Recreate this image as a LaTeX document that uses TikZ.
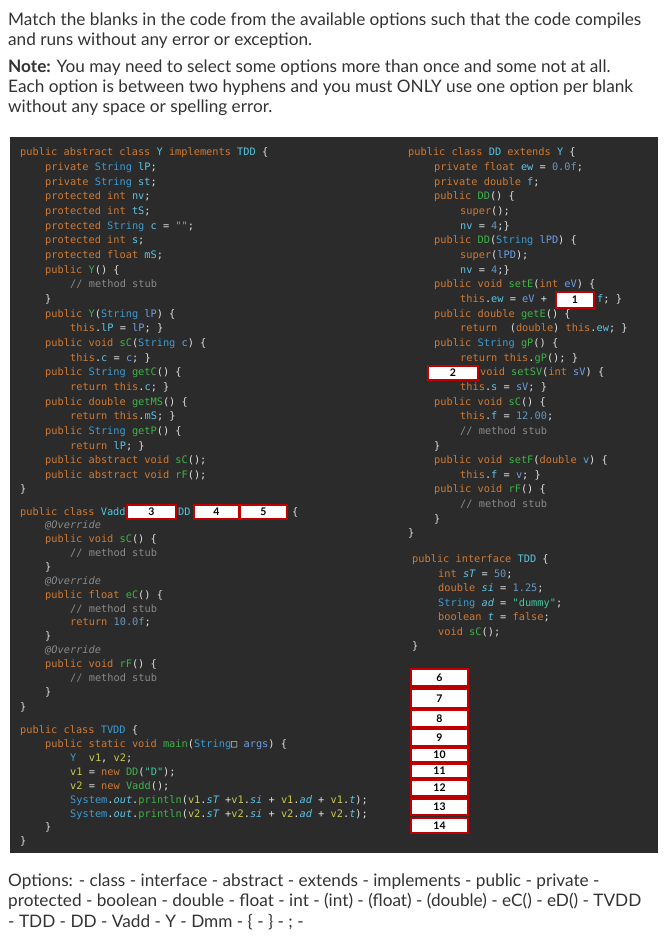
\documentclass[tikz,border=0pt]{standalone}
\usepackage{fontspec}
\setmainfont{Lato}
\setmonofont{DejaVu Sans Mono}
\definecolor{bgc}{HTML}{2B2B2B}
\definecolor{kwc}{HTML}{D07A34}
\definecolor{tyc}{HTML}{3D9BD0}
\definecolor{cnc}{HTML}{55C6DE}
\definecolor{fdc}{HTML}{5EC4E4}
\definecolor{mtc}{HTML}{3FB34A}
\definecolor{pac}{HTML}{6E9EE6}
\definecolor{nuc}{HTML}{6897BB}
\definecolor{src}{HTML}{3FC9A0}
\definecolor{cmc}{HTML}{8A8A8A}
\definecolor{plc}{HTML}{E0E0E0}
\definecolor{vrc}{HTML}{C9C94E}
\definecolor{boxred}{HTML}{C00000}
\definecolor{txc}{HTML}{333333}
\newcommand\cKW[1]{\textcolor{kwc}{#1}}
\newcommand\cTY[1]{\textcolor{tyc}{#1}}
\newcommand\cCN[1]{\textcolor{cnc}{#1}}
\newcommand\cFD[1]{\textcolor{fdc}{#1}}
\newcommand\cMT[1]{\textcolor{mtc}{#1}}
\newcommand\cPA[1]{\textcolor{pac}{#1}}
\newcommand\cNU[1]{\textcolor{nuc}{#1}}
\newcommand\cSR[1]{\textcolor{src}{#1}}
\newcommand\cCM[1]{\textcolor{cmc}{#1}}
\newcommand\cVR[1]{\textcolor{vrc}{#1}}
\newcount\lncount
\newcommand\cl[3]{\global\advance\lncount by 1\relax
  \node[code] (ln\the\lncount) at (#1,{-(#2)-4}) {#3};}
\newcommand\bx[5]{\node[gapbox,minimum width={(#3-#1)*1pt},minimum height={(#4-#2)*1pt}] (box#5) at ({(#1+#3)/2},{-(#2+#4)/2}) {#5};}
\tikzset{
  code/.style={anchor=base west,inner sep=0pt,text=plc,font=\ttfamily\fontsize{10.3}{12}\selectfont},
  gapbox/.style={draw=boxred,line width=1.6pt,fill=white,inner sep=0pt,font=\bfseries\fontsize{10.5}{11}\selectfont,text=black},
  prose/.style={anchor=base west,inner sep=0pt,text=txc,font=\fontsize{17.2}{20}\selectfont}
}
\begin{document}
\begin{tikzpicture}[x=1pt,y=1pt]
\useasboundingbox (0,0) rectangle (671,-941);
\fill[white] (0,0) rectangle (671,-941);
% prose
\node[prose] (p1) at (8,-26) {Match the blanks in the code from the available options such that the code compiles};
\node[prose] (p2) at (8,-46) {and runs without any error or exception.};
\node[prose] (p3) at (8,-73) {\textbf{Note:} You may need to select some options more than once and some not at all.};
\node[prose] (p4) at (8,-93) {Each option is between two hyphens and you must ONLY use one option per blank};
\node[prose] (p5) at (8,-113) {without any space or spelling error.};
\node[prose] (p6) at (8,-886) {Options: - class - interface - abstract - extends - implements - public - private -};
\node[prose] (p7) at (8,-906) {protected - boolean - double - float - int - (int) - (float) - (double) - eC() - eD() - TVDD};
\node[prose] (p8) at (8,-927) {- TDD - DD - Vadd - Y - Dmm - \{ - \} - ; -};
% panel
\fill[bgc] (10,-137) rectangle (658,-853);
% left column: class Y
\cl{20}{152}{\cKW{public abstract class} \cCN{Y} \cKW{implements} \cCN{TDD} \{}
\cl{45}{166.6}{\cKW{private} \cTY{String} \cFD{lP};}
\cl{45}{181.3}{\cKW{private} \cTY{String} \cFD{st};}
\cl{45}{195.9}{\cKW{protected int} \cFD{nv};}
\cl{45}{210.6}{\cKW{protected int} \cFD{tS};}
\cl{45}{225.2}{\cKW{protected} \cTY{String} \cFD{c} = \cSR{""};}
\cl{45}{239.9}{\cKW{protected int} \cFD{s};}
\cl{45}{254.5}{\cKW{protected float} \cFD{mS};}
\cl{45}{269.2}{\cKW{public} \cMT{Y}() \{}
\cl{70}{283.8}{\cCM{// method stub}}
\cl{45}{298.5}{\}}
\cl{45}{313.1}{\cKW{public} \cMT{Y}(\cTY{String} \cPA{lP}) \{}
\cl{70}{327.8}{\cKW{this}.\cFD{lP} = \cPA{lP}; \}}
\cl{45}{342.4}{\cKW{public void} \cMT{sC}(\cTY{String} \cPA{c}) \{}
\cl{70}{357.1}{\cKW{this}.\cFD{c} = \cPA{c}; \}}
\cl{45}{371.7}{\cKW{public} \cTY{String} \cMT{getC}() \{}
\cl{70}{386.4}{\cKW{return this}.\cFD{c}; \}}
\cl{45}{401.0}{\cKW{public double} \cMT{getMS}() \{}
\cl{70}{415.7}{\cKW{return this}.\cFD{mS}; \}}
\cl{45}{430.3}{\cKW{public} \cTY{String} \cMT{getP}() \{}
\cl{70}{445.0}{\cKW{return} \cFD{lP}; \}}
\cl{45}{459.6}{\cKW{public abstract void} \cMT{sC}();}
\cl{45}{474.3}{\cKW{public abstract void} \cMT{rF}();}
\cl{20}{488.9}{\}}
% class Vadd
\cl{20}{511}{\cKW{public class} \cCN{Vadd}}
\cl{178}{511}{\cCN{DD}}
\cl{292}{511}{\{}
\cl{45}{524}{\cCM{\itshape @Override}}
\cl{45}{538}{\cKW{public void} \cMT{sC}() \{}
\cl{70}{552}{\cCM{// method stub}}
\cl{45}{566}{\}}
\cl{45}{580}{\cCM{\itshape @Override}}
\cl{45}{594}{\cKW{public float} \cMT{eC}() \{}
\cl{70}{608}{\cCM{// method stub}}
\cl{70}{621}{\cKW{return} \cNU{10.0f};}
\cl{45}{635}{\}}
\cl{45}{649}{\cCM{\itshape @Override}}
\cl{45}{663}{\cKW{public void} \cMT{rF}() \{}
\cl{70}{677}{\cCM{// method stub}}
\cl{45}{691}{\}}
\cl{20}{706}{\}}
% class TVDD
\cl{20}{729}{\cKW{public class} \cTY{TVDD} \{}
\cl{45}{743}{\cKW{public static void} \cMT{main}(\cTY{String}□ \cPA{args}) \{}
\cl{70}{757}{\cTY{Y}\ \ \cVR{v1}, \cVR{v2};}
\cl{70}{771}{\cVR{v1} = \cKW{new} \cMT{DD}(\cSR{"D"});}
\cl{70}{785}{\cVR{v2} = \cKW{new} \cMT{Vadd}();}
\cl{70}{799}{\cTY{System}.\cFD{\itshape out}.\cMT{println}(\cVR{v1}.\cFD{\itshape sT} +\cVR{v1}.\cFD{\itshape si} + \cVR{v1}.\cFD{\itshape ad} + \cVR{v1}.\cFD{\itshape t});}
\cl{70}{813}{\cTY{System}.\cFD{\itshape out}.\cMT{println}(\cVR{v2}.\cFD{\itshape sT} +\cVR{v2}.\cFD{\itshape si} + \cVR{v2}.\cFD{\itshape ad} + \cVR{v2}.\cFD{\itshape t});}
\cl{45}{826}{\}}
\cl{20}{840}{\}}
% right column: class DD
\cl{408}{152}{\cKW{public class} \cCN{DD} \cKW{extends} \cCN{Y} \{}
\cl{434}{166.6}{\cKW{private float} \cFD{ew} = \cNU{0.0f};}
\cl{434}{181.3}{\cKW{private double} \cFD{f};}
\cl{434}{195.9}{\cKW{public} \cMT{DD}() \{}
\cl{460}{210.6}{\cKW{super}();}
\cl{460}{225.2}{\cFD{nv} = \cNU{4};\}}
\cl{434}{239.9}{\cKW{public} \cMT{DD}(\cTY{String} \cPA{lPD}) \{}
\cl{460}{254.5}{\cKW{super}(\cPA{lPD});}
\cl{460}{269.2}{\cFD{nv} = \cNU{4};\}}
\cl{434}{283.8}{\cKW{public void} \cMT{setE}(\cKW{int} \cPA{eV}) \{}
\cl{460}{298.5}{\cKW{this}.\cFD{ew} = \cPA{eV} +}
\cl{597}{298.5}{\cFD{f}; \}}
\cl{434}{313.1}{\cKW{public double} \cMT{getE}() \{}
\cl{460}{327.8}{\cKW{return}\ \ (\cKW{double}) \cKW{this}.\cFD{ew}; \}}
\cl{434}{342.4}{\cKW{public} \cTY{String} \cMT{gP}() \{}
\cl{460}{357.1}{\cKW{return this}.\cMT{gP}(); \}}
\cl{480}{371.7}{\cKW{void} \cMT{setSV}(\cKW{int} \cPA{sV}) \{}
\cl{460}{386.4}{\cKW{this}.\cFD{s} = \cPA{sV}; \}}
\cl{434}{401.0}{\cKW{public void} \cMT{sC}() \{}
\cl{460}{415.7}{\cKW{this}.\cFD{f} = \cNU{12.00};}
\cl{460}{430.3}{\cCM{// method stub}}
\cl{434}{445.0}{\}}
\cl{434}{459.6}{\cKW{public void} \cMT{setF}(\cKW{double} \cPA{v}) \{}
\cl{460}{474.3}{\cKW{this}.\cFD{f} = \cPA{v}; \}}
\cl{434}{488.9}{\cKW{public void} \cMT{rF}() \{}
\cl{460}{503.6}{\cCM{// method stub}}
\cl{434}{518.2}{\}}
\cl{408}{532.9}{\}}
% interface TDD
\cl{412}{558}{\cKW{public interface} \cCN{TDD} \{}
\cl{438}{573}{\cKW{int} \cFD{\itshape sT} = \cNU{50};}
\cl{438}{587}{\cKW{double} \cFD{\itshape si} = \cNU{1.25};}
\cl{438}{602}{\cTY{String} \cFD{\itshape ad} = \cSR{"dummy"};}
\cl{438}{616}{\cKW{boolean} \cFD{\itshape t} = \cKW{false};}
\cl{438}{631}{\cKW{void} \cMT{sC}();}
\cl{412}{645}{\}}
% blanks
\bx{556}{292}{594}{308}{1}
\bx{428}{366}{478}{380}{2}
\bx{127}{505}{176}{519}{3}
\bx{194}{505}{239}{519}{4}
\bx{240}{505}{287}{519}{5}
\bx{411}{669}{468}{686}{6}
\bx{411}{689}{468}{708}{7}
\bx{411}{710}{468}{727}{8}
\bx{411}{729}{468}{746}{9}
\bx{411}{748}{468}{762}{10}
\bx{411}{764}{468}{778}{11}
\bx{411}{780}{468}{796}{12}
\bx{411}{799}{468}{815}{13}
\bx{411}{818}{468}{833}{14}
\end{tikzpicture}
\end{document}
